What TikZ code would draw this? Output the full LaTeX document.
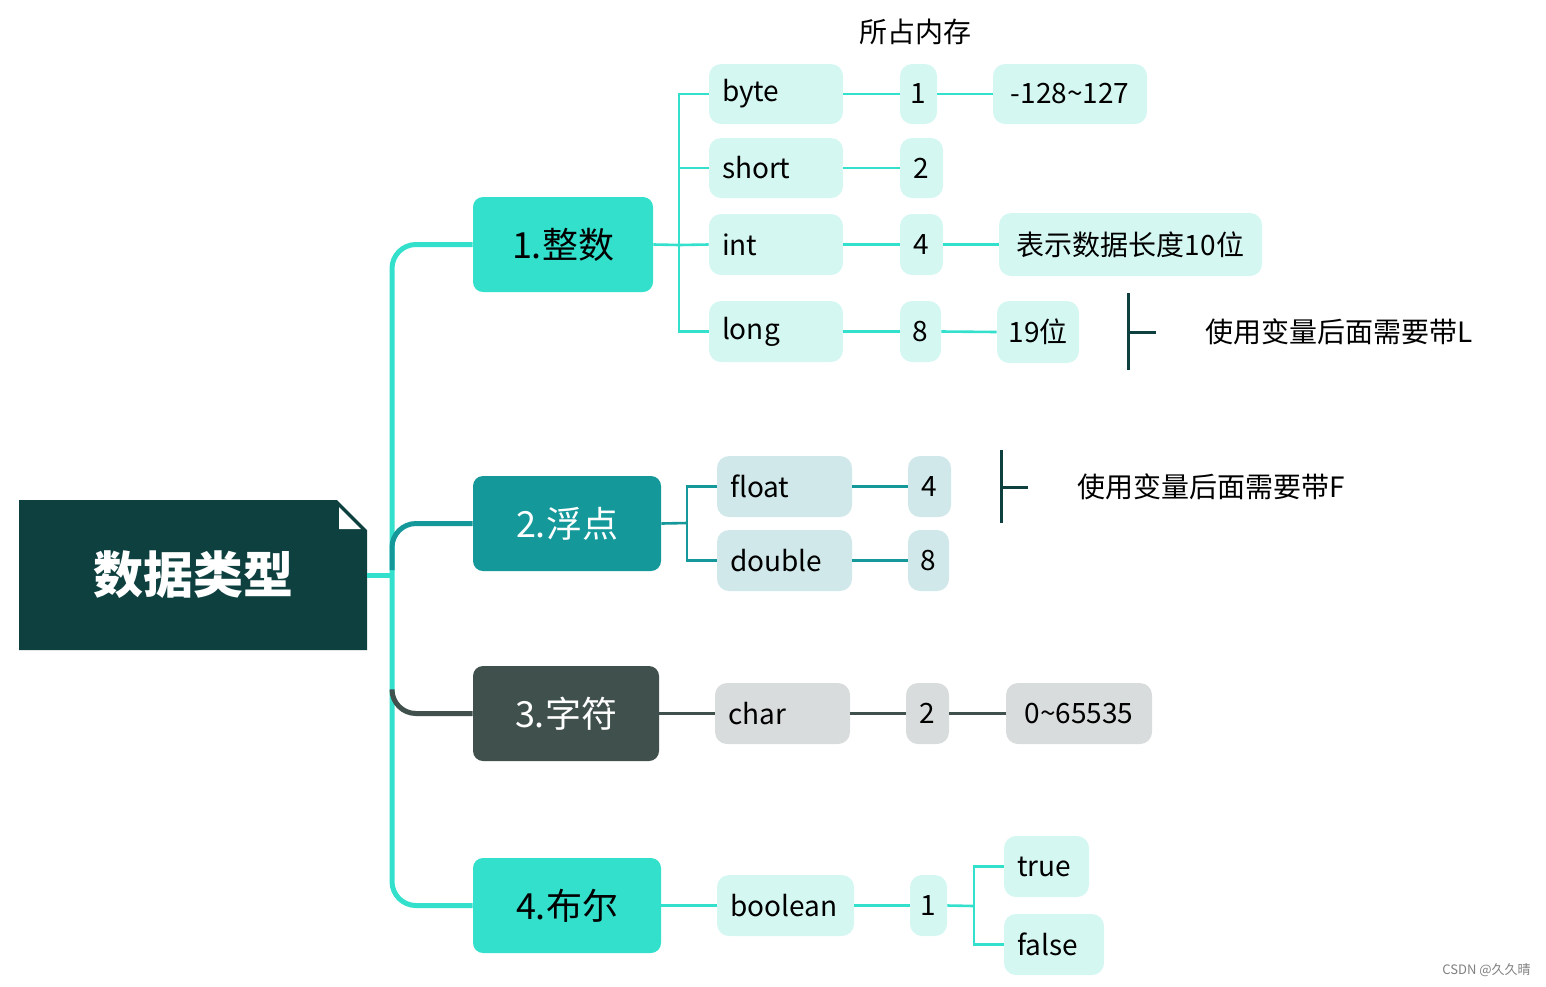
\documentclass[tikz,border=0pt]{standalone}
\usepackage{fontspec}
\setmainfont{Noto Sans CJK SC}
\usetikzlibrary{fit}
\definecolor{turq}{HTML}{33E0CC}
\definecolor{teal2}{HTML}{14989A}
\definecolor{dgray}{HTML}{40504C}
\definecolor{rootc}{HTML}{0E4040}
\definecolor{lA}{HTML}{D5F7F2}
\definecolor{lB}{HTML}{D0E8EA}
\definecolor{lC}{HTML}{D9DCDC}
\tikzset{
 box/.style={inner sep=0pt, rounded corners=6pt, draw=none},
 main/.style={box, rounded corners=5pt},
 ltxt/.style={inner sep=0pt, font=\fontsize{14}{16}\selectfont, anchor=west},
 ctxt/.style={inner sep=0pt, font=\fontsize{14}{16}\selectfont},
 mtxt/.style={inner sep=0pt, font=\fontsize{18}{20}\selectfont},
 thin/.style={line width=1.3pt},
 thick/.style={line width=2.5pt},
}
\newcommand\bx[7]{\node[box,fill=#6,fit={(#2,#3)(#4,#5)}] (#1) {};\node[ctxt] (#1t) at (#1) {#7};}
\newcommand\lx[7]{\node[box,fill=#6,fit={(#2,#3)(#4,#5)}] (#1) {};\node[ltxt] (#1t) at ([xshift=6.5pt]#1.west) {#7};}
\begin{document}
\begin{tikzpicture}[x=0.5pt,y=-0.5pt]
\useasboundingbox (0,0) rectangle (1546,986);
% root
\fill[rootc] (19,500) -- (337,500) -- (367,530) -- (367,650) -- (19,650) -- cycle;
\fill[white] (339,507) -- (361,529) -- (339,529) -- cycle;
\node[fit={(19,500)(367,650)},inner sep=0] (root) {};
\node[inner sep=0,text=white,font=\fontsize{25}{28}\selectfont\bfseries] (roott) at (193,575) {数据类型};
% main nodes
\node[main,fill=turq,fit={(473,197)(653,292)}] (m1) {};
\node[mtxt] (m1t) at (m1) {1.整数};
\node[main,fill=teal2,fit={(473,476)(661,571)}] (m2) {};
\node[mtxt,text=white] (m2t) at (m2) {2.浮点};
\node[main,fill=dgray,fit={(473,666)(659,761)}] (m3) {};
\node[mtxt,text=white] (m3t) at (m3) {3.字符};
\node[main,fill=turq,fit={(473,858)(661,953)}] (m4) {};
\node[mtxt] (m4t) at (m4) {4.布尔};
% trunk
\coordinate (tr) at (392,575);
\draw[thick,turq] (root.east|-tr) -- (tr);
\draw[thick,turq,rounded corners=12pt] (m1.west) -| (392,575) |- (m4.west);
\draw[thick,teal2,rounded corners=12pt] (392,570) |- (m2.west);
\draw[thick,dgray,rounded corners=12pt] (392,690) |- (m3.west);
% integer leaves
\node[ctxt] (mem) at (915,32) {所占内存};
\lx{byte}{709}{64}{843}{124}{lA}{byte}
\lx{short}{709}{138}{843}{198}{lA}{short}
\lx{int}{709}{214}{843}{275}{lA}{int}
\lx{long}{709}{301}{843}{362}{lA}{long}
\bx{n1}{900}{64}{937}{124}{lA}{1}
\bx{n2}{900}{138}{943}{198}{lA}{2}
\bx{n3}{900}{214}{943}{275}{lA}{4}
\bx{n4}{900}{301}{941}{362}{lA}{8}
\bx{r1}{993}{64}{1147}{124}{lA}{-128\textasciitilde127}
\bx{r3}{999}{213}{1262}{276}{lA}{表示数据长度10位}
\bx{r4}{997}{301}{1079}{363}{lA}{19位}
\draw[thin,turq] (m1.east) -- (679,245);
\draw[thin,turq] (byte.west) -| (679,245) |- (long.west);
\draw[thin,turq] (679,168) -- (short.west);
\draw[thin,turq] (679,245) -- (int.west);
\foreach \a/\b in {byte/n1,short/n2,int/n3,long/n4,n1/r1,n3/r3,n4/r4} \draw[thin,turq] (\a.east) -- (\b.west);
\coordinate (bL) at (1128,293); \coordinate (bL2) at (1128,370); \coordinate (bLt) at (1156,332);
\draw[line width=1.5pt,rootc] (bL) -- (bL2) (1128,332) -- (bLt);
\node[ctxt,anchor=west] (noteL) at (1205,332) {使用变量后面需要带L};
% float
\lx{float}{717}{456}{852}{517}{lB}{float}
\lx{double}{717}{530}{852}{591}{lB}{double}
\bx{f1}{908}{456}{951}{517}{lB}{4}
\bx{f2}{908}{530}{949}{591}{lB}{8}
\draw[thin,teal2] (m2.east) -- (687,523);
\draw[thin,teal2] (float.west) -| (687,523) |- (double.west);
\foreach \a/\b in {float/f1,double/f2} \draw[thin,teal2] (\a.east) -- (\b.west);
\coordinate (bF) at (1001,450); \coordinate (bF2) at (1001,523); \coordinate (bFt) at (1028,487);
\draw[line width=1.5pt,rootc] (bF) -- (bF2) (1001,487) -- (bFt);
\node[ctxt,anchor=west] (noteF) at (1077,487) {使用变量后面需要带F};
% char
\lx{char}{715}{683}{850}{744}{lC}{char}
\bx{c1}{906}{683}{949}{744}{lC}{2}
\bx{c2}{1006}{683}{1152}{744}{lC}{0\textasciitilde65535}
\draw[thin,dgray] (m3.east) -- (char.west);
\foreach \a/\b in {char/c1,c1/c2} \draw[thin,dgray] (\a.east) -- (\b.west);
% boolean
\lx{bool}{717}{875}{854}{936}{lA}{boolean}
\bx{b1}{910}{875}{947}{936}{lA}{1}
\lx{tr1}{1004}{836}{1089}{897}{lA}{true}
\lx{fa1}{1004}{914}{1104}{975}{lA}{false}
\draw[thin,turq] (m4.east) -- (bool.west);
\draw[thin,turq] (bool.east) -- (b1.west);
\draw[thin,turq] (b1.east) -- (974,906);
\draw[thin,turq] (tr1.west) -| (974,906) |- (fa1.west);
\node[inner sep=0,text=gray,font=\fontsize{6.5}{8}\selectfont,anchor=east] (wm) at (1531,970) {CSDN @久久晴};
\end{tikzpicture}
\end{document}
